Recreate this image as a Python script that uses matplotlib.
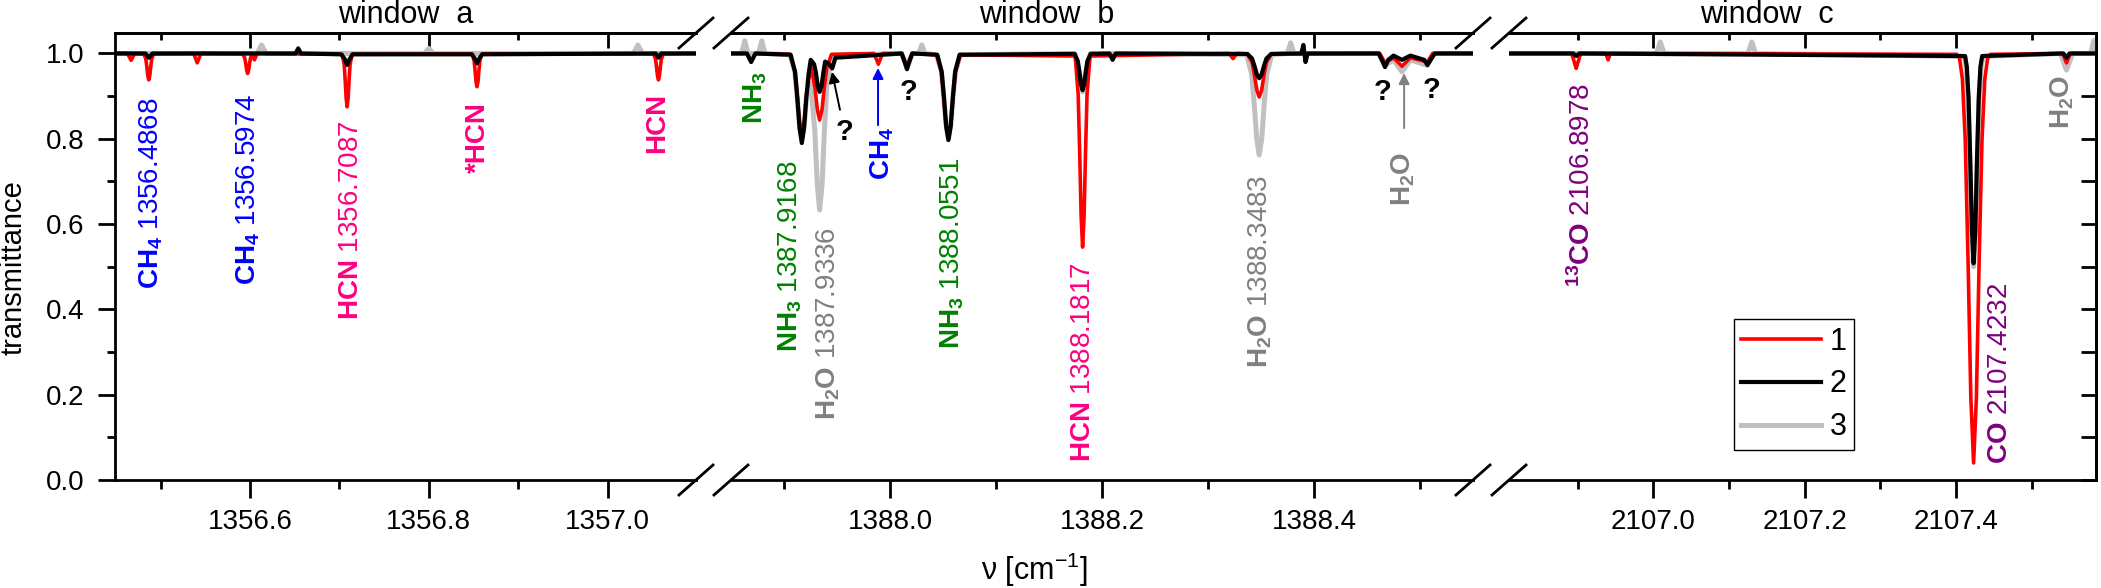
import matplotlib
matplotlib.use("Agg")
import matplotlib.pyplot as plt
from matplotlib.ticker import MultipleLocator, FormatStrFormatter

plt.rcParams['font.family'] = ['Liberation Sans', 'DejaVu Sans']
plt.rcParams['mathtext.fontset'] = 'custom'
plt.rcParams['mathtext.rm'] = 'Liberation Sans'
plt.rcParams['mathtext.it'] = 'Liberation Sans:italic'
plt.rcParams['mathtext.bf'] = 'Liberation Sans:bold'

# ---- data (wavenumber, transmittance) ----
series_names = ['1', '2', '3']

# window a
win_a_nu_1 = [1356.449,
              1356.463, 1356.467, 1356.471,
              1356.4813, 1356.4835, 1356.4846, 1356.4857, 1356.4868, 1356.4879, 1356.4890, 1356.4901, 1356.4923,
              1356.537, 1356.541, 1356.545,
              1356.5919, 1356.5941, 1356.5952, 1356.5963, 1356.5974, 1356.5985, 1356.5996, 1356.6007, 1356.6025,
              1356.605, 1356.608,
              1356.7032, 1356.7054, 1356.7065, 1356.7076, 1356.7087, 1356.7098, 1356.7109, 1356.7120, 1356.7142,
              1356.8485, 1356.8507, 1356.8518, 1356.8529, 1356.854, 1356.8551, 1356.8562, 1356.8573, 1356.8595,
              1357.0515, 1357.0537, 1357.0548, 1357.0559, 1357.057, 1357.0581, 1357.0592, 1357.0603, 1357.0625,
              1357.099]
win_a_tr_1 = [1.0,
              1.0, 0.984, 1.0,
              0.999, 0.987, 0.969, 0.948, 0.938, 0.948, 0.969, 0.987, 0.999,
              1.0, 0.978, 1.0,
              0.999, 0.990, 0.977, 0.961, 0.953, 0.961, 0.977, 0.990, 0.998,
              0.985, 1.0,
              0.998, 0.974, 0.938, 0.895, 0.875, 0.895, 0.938, 0.974, 0.998,
              0.999, 0.984, 0.961, 0.934, 0.922, 0.934, 0.961, 0.984, 0.999,
              0.999, 0.987, 0.969, 0.948, 0.938, 0.948, 0.969, 0.987, 0.999,
              1.0]
win_a_nu_2 = [1356.449, 1356.483, 1356.4868, 1356.491, 1356.651, 1356.654, 1356.657,
              1356.702, 1356.706, 1356.7087, 1356.7115, 1356.715,
              1356.848, 1356.851, 1356.854, 1356.857, 1356.860,
              1357.054, 1357.057, 1357.060, 1357.099]
win_a_tr_2 = [1.0, 1.0, 0.99, 1.0, 1.0, 1.012, 1.0,
              0.998, 0.987, 0.973, 0.987, 0.998,
              0.998, 0.99, 0.977, 0.99, 0.998,
              1.0, 0.99, 1.0, 1.0]
win_a_nu_3 = [1356.449, 1356.608, 1356.613, 1356.618, 1356.795, 1356.800, 1356.805,
              1357.029, 1357.034, 1357.039, 1357.099]
win_a_tr_3 = [1.0, 1.0, 1.02, 1.0, 1.0, 1.012, 1.0, 1.0, 1.02, 1.0, 1.0]

# window b
win_b_nu_1 = [1387.850,
              1387.865, 1387.869, 1387.873,
              1387.9056, 1387.9101, 1387.9123, 1387.9146, 1387.9168, 1387.9191, 1387.9213, 1387.9252,
              1387.9291, 1387.9314, 1387.9336, 1387.9359, 1387.9381, 1387.9404, 1387.9449,
              1387.985, 1387.989, 1387.993,
              1388.011, 1388.016, 1388.021,
              1388.0439, 1388.0484, 1388.0506, 1388.0529, 1388.0551, 1388.0574, 1388.0596, 1388.0619, 1388.0664,
              1388.1747, 1388.1775, 1388.1789, 1388.1803, 1388.1817, 1388.1831, 1388.1845, 1388.1859, 1388.1887,
              1388.320, 1388.3236, 1388.327,
              1388.3371, 1388.3416, 1388.3438, 1388.3461, 1388.3483, 1388.3506, 1388.3528, 1388.3551, 1388.3596,
              1388.462, 1388.467, 1388.475, 1388.483, 1388.491, 1388.507, 1388.512,
              1388.550]
win_b_tr_1 = [1.0,
              1.0, 0.98, 1.0,
              0.998, 0.960, 0.905, 0.840, 0.810, 0.840, 0.905, 0.970,
              0.922, 0.869, 0.844, 0.869, 0.922, 0.967, 0.998,
              1.0, 0.975, 1.0,
              1.0, 0.97, 1.0,
              0.997, 0.958, 0.900, 0.832, 0.800, 0.832, 0.900, 0.958, 0.997,
              0.994, 0.905, 0.773, 0.619, 0.546, 0.619, 0.773, 0.905, 0.994,
              1.0, 0.988, 1.0,
              0.999, 0.979, 0.949, 0.914, 0.898, 0.914, 0.949, 0.979, 0.999,
              1.0, 0.978, 0.99, 0.97, 0.99, 0.98, 1.0,
              1.0]
win_b_nu_2 = [1387.850, 1387.865, 1387.869, 1387.873,
              1387.9063, 1387.9105, 1387.9126, 1387.9147, 1387.9168, 1387.9189, 1387.9210, 1387.9231, 1387.9252,
              1387.9284, 1387.9301, 1387.9318, 1387.9336, 1387.9354, 1387.9371, 1387.9388, 1387.9425, 1387.9455,
              1387.9485,
              1388.011, 1388.0135, 1388.016, 1388.0185, 1388.021,
              1388.0446, 1388.0488, 1388.0509, 1388.0530, 1388.0551, 1388.0572, 1388.0593, 1388.0614, 1388.0656,
              1388.1742, 1388.1772, 1388.1787, 1388.1802, 1388.1817, 1388.1832, 1388.1847, 1388.1862, 1388.1892,
              1388.207, 1388.210, 1388.213,
              1388.3371, 1388.3416, 1388.3438, 1388.3461, 1388.3483, 1388.3506, 1388.3528, 1388.3551, 1388.3596,
              1388.388, 1388.390, 1388.392, 1388.394,
              1388.461, 1388.464, 1388.467, 1388.470, 1388.475, 1388.483, 1388.491, 1388.504, 1388.507, 1388.510,
              1388.514,
              1388.550]
win_b_tr_2 = [1.0, 1.0, 0.98, 1.0,
              0.997, 0.956, 0.895, 0.824, 0.790, 0.824, 0.895, 0.950, 0.985,
              0.975, 0.955, 0.924, 0.910, 0.924, 0.955, 0.981, 0.975, 0.965,
              0.99,
              1.0, 0.982, 0.963, 0.982, 1.0,
              0.997, 0.957, 0.898, 0.829, 0.797, 0.829, 0.898, 0.957, 0.997,
              0.999, 0.982, 0.957, 0.928, 0.914, 0.928, 0.957, 0.982, 0.999,
              1.0, 0.985, 1.0,
              0.999, 0.988, 0.971, 0.951, 0.942, 0.951, 0.971, 0.988, 0.999,
              1.0, 1.02, 0.98, 1.0,
              1.0, 0.985, 0.968, 0.985, 0.995, 0.985, 0.995, 0.985, 0.973, 0.985,
              1.0,
              1.0]
win_b_nu_3 = [1387.850, 1387.860, 1387.863, 1387.866, 1387.876, 1387.879, 1387.882,
              1387.9056, 1387.9101, 1387.9123, 1387.9146, 1387.9168, 1387.9191, 1387.9213, 1387.9252,
              1387.9291, 1387.9314, 1387.9336, 1387.9359, 1387.9381, 1387.9404, 1387.9449,
              1388.011, 1388.016, 1388.021, 1388.027, 1388.030, 1388.033,
              1388.0439, 1388.0484, 1388.0506, 1388.0529, 1388.0551, 1388.0574, 1388.0596, 1388.0619, 1388.0664,
              1388.1742, 1388.1787, 1388.1817, 1388.1847, 1388.1892,
              1388.3366, 1388.3413, 1388.3436, 1388.3460, 1388.3483, 1388.3507, 1388.3530, 1388.3554, 1388.3601,
              1388.375, 1388.378, 1388.381,
              1388.461, 1388.467, 1388.475, 1388.483, 1388.491, 1388.507, 1388.513,
              1388.550]
win_b_tr_3 = [1.0, 1.0, 1.03, 1.0, 1.0, 1.03, 1.0,
              0.997, 0.958, 0.900, 0.832, 0.800, 0.832, 0.900, 0.930,
              0.817, 0.692, 0.633, 0.692, 0.817, 0.923, 0.995,
              1.0, 0.97, 1.0, 1.0, 1.02, 1.0,
              0.997, 0.958, 0.900, 0.832, 0.800, 0.832, 0.900, 0.958, 0.997,
              1.0, 0.955, 0.91, 0.955, 1.0,
              0.997, 0.950, 0.881, 0.800, 0.762, 0.800, 0.881, 0.950, 0.997,
              1.0, 1.025, 1.0,
              1.0, 0.972, 0.985, 0.957, 0.985, 0.972, 1.0,
              1.0]

# window c
win_c_nu_1 = [2106.809, 2106.8918, 2106.8948, 2106.8978, 2106.9008, 2106.9038,
              2106.937, 2106.940, 2106.943,
              2107.4010, 2107.4047, 2107.4084, 2107.4121, 2107.4158, 2107.4195, 2107.4232, 2107.4269, 2107.4306,
              2107.4343, 2107.4380, 2107.4417, 2107.4454,
              2107.541, 2107.546, 2107.551, 2107.585]
win_c_tr_1 = [1.0, 1.0, 0.983, 0.965, 0.983, 1.0,
              1.0, 0.985, 1.0,
              0.998, 0.988, 0.940, 0.798, 0.520, 0.194, 0.040, 0.194, 0.520,
              0.798, 0.940, 0.988, 0.998,
              1.0, 0.978, 1.0, 1.0]
win_c_nu_2 = [2106.809, 2106.894, 2106.8978, 2106.902,
              2107.4120, 2107.4142, 2107.4165, 2107.4187, 2107.4210, 2107.4232, 2107.4255, 2107.4277, 2107.4300,
              2107.4322, 2107.4345,
              2107.542, 2107.546, 2107.550, 2107.585]
win_c_tr_2 = [1.0, 1.0, 0.994, 1.0,
              0.994, 0.969, 0.897, 0.754, 0.587, 0.508, 0.587, 0.754, 0.897,
              0.969, 0.994,
              1.0, 0.99, 1.0, 1.0]
win_c_nu_3 = [2106.809, 2107.004, 2107.009, 2107.014, 2107.125, 2107.130, 2107.135,
              2107.4107, 2107.4132, 2107.4157, 2107.4182, 2107.4207, 2107.4232, 2107.4257, 2107.4282, 2107.4307,
              2107.4332, 2107.4357,
              2107.538, 2107.542, 2107.546, 2107.550, 2107.554, 2107.578, 2107.582, 2107.585]
win_c_tr_3 = [1.0, 1.0, 1.027, 1.0, 1.0, 1.027, 1.0,
              0.993, 0.969, 0.895, 0.750, 0.580, 0.500, 0.580, 0.750, 0.895,
              0.969, 0.993,
              1.0, 0.98, 0.961, 0.98, 1.0, 1.0, 1.03, 1.0]

win_a_range = (1356.449, 1357.099)
win_b_range = (1387.850, 1388.550)
win_c_range = (2106.809, 2107.585)

# ---- layout (pixels of the 2101x588 output) ----
W, H = 2101, 588
TOP, BOT = 33, 480
fig = plt.figure(figsize=(W / 100, H / 100), dpi=100)


def px_rect(x0, x1):
    return [x0 / W, 1 - BOT / H, (x1 - x0) / W, (BOT - TOP) / H]


ax_a = fig.add_axes(px_rect(115, 696))
ax_b = fig.add_axes(px_rect(731, 1473))
ax_c = fig.add_axes(px_rect(1509, 2096))

RED, BLACK, GRAY = '#ff0000', '#000000', '#c0c0c0'
PINK, BLUE, GREEN, DGRAY, PURPLE = '#ff0080', '#0000ff', '#008000', '#808080', '#800080'

panels = [
    (ax_a, win_a_range, (win_a_nu_1, win_a_tr_1), (win_a_nu_2, win_a_tr_2), (win_a_nu_3, win_a_tr_3)),
    (ax_b, win_b_range, (win_b_nu_1, win_b_tr_1), (win_b_nu_2, win_b_tr_2), (win_b_nu_3, win_b_tr_3)),
    (ax_c, win_c_range, (win_c_nu_1, win_c_tr_1), (win_c_nu_2, win_c_tr_2), (win_c_nu_3, win_c_tr_3)),
]

handles = []
for ax, rng, s1, s2, s3 in panels:
    l3, = ax.plot(*s3, color=GRAY, lw=3.6, solid_joinstyle='round', zorder=1)
    l1, = ax.plot(*s1, color=RED, lw=2.6, solid_joinstyle='round', zorder=2)
    l2, = ax.plot(*s2, color=BLACK, lw=3.0, solid_joinstyle='round', zorder=3)
    handles = [l1, l2, l3]
    ax.set_xlim(*rng)
    ax.set_ylim(0, 1.048)


def style(ax, left=False, right=False):
    for s in ax.spines.values():
        s.set_linewidth(2)
    ax.spines['left'].set_visible(left)
    ax.spines['right'].set_visible(right)
    ax.xaxis.set_major_locator(MultipleLocator(0.2))
    ax.xaxis.set_minor_locator(MultipleLocator(0.1))
    ax.xaxis.set_major_formatter(FormatStrFormatter('%.1f'))
    ax.tick_params(axis='x', which='major', direction='out', length=13, width=2, labelsize=20, pad=8)
    ax.tick_params(axis='x', which='minor', direction='out', length=6.5, width=2)
    top = ax.secondary_xaxis('top')
    top.xaxis.set_major_locator(MultipleLocator(0.2))
    top.xaxis.set_minor_locator(MultipleLocator(0.1))
    top.tick_params(which='major', direction='in', length=11, width=2, labeltop=False)
    top.tick_params(which='minor', direction='in', length=5, width=2)
    top.spines['top'].set_linewidth(2)
    if left:
        ax.yaxis.set_major_locator(MultipleLocator(0.2))
        ax.yaxis.set_minor_locator(MultipleLocator(0.1))
        ax.yaxis.set_major_formatter(FormatStrFormatter('%.1f'))
        ax.tick_params(axis='y', which='major', direction='out', length=12, width=2, labelsize=20, pad=10)
        ax.tick_params(axis='y', which='minor', direction='out', length=6, width=2)
    else:
        ax.tick_params(axis='y', which='both', left=False, labelleft=False)
    if right:
        sec = ax.secondary_yaxis('right')
        sec.yaxis.set_major_locator(MultipleLocator(0.1))
        sec.tick_params(direction='in', length=10.5, width=2, labelright=False)
        sec.spines['right'].set_linewidth(2)


style(ax_a, left=True)
style(ax_b)
style(ax_c, right=True)


def slash(ax, xa, ya, width_px):
    dx, dy = 17 / width_px, 15 / (BOT - TOP)
    ax.plot([xa - dx, xa + dx], [ya - dy, ya + dy], transform=ax.transAxes,
            color='k', lw=2, clip_on=False, zorder=5)


for ya in (0, 1):
    slash(ax_a, 1, ya, 581)
    slash(ax_b, 0, ya, 742)
    slash(ax_b, 1, ya, 742)
    slash(ax_c, 0, ya, 587)

# line labels
labels = [
    (ax_a, 1356.4898, 0.898, r'$\mathbf{CH_4}$ 1356.4868', BLUE, 'normal'),
    (ax_a, 1356.5978, 0.905, r'$\mathbf{CH_4}$ 1356.5974', BLUE, 'normal'),
    (ax_a, 1356.7130, 0.844, r'$\mathbf{HCN}$ 1356.7087', PINK, 'normal'),
    (ax_a, 1356.8546, 0.886, '*HCN', PINK, 'bold'),
    (ax_a, 1357.0550, 0.907, 'HCN', PINK, 'bold'),
    (ax_b, 1387.8726, 0.957, r'$\mathbf{NH_3}$', GREEN, 'normal'),
    (ax_b, 1387.9057, 0.750, r'$\mathbf{NH_3}$ 1387.9168', GREEN, 'normal'),
    (ax_b, 1387.9415, 0.593, r'$\mathbf{H_2O}$ 1387.9336', DGRAY, 'normal'),
    (ax_b, 1387.9925, 0.828, r'$\mathbf{CH_4}$', BLUE, 'normal'),
    (ax_b, 1388.0585, 0.757, r'$\mathbf{NH_3}$ 1388.0551', GREEN, 'normal'),
    (ax_b, 1388.1820, 0.511, r'$\mathbf{HCN}$ 1388.1817', PINK, 'normal'),
    (ax_b, 1388.3490, 0.715, r'$\mathbf{H_2O}$ 1388.3483', DGRAY, 'normal'),
    (ax_b, 1388.4840, 0.769, r'$\mathbf{H_2O}$', DGRAY, 'normal'),
    (ax_c, 2106.9050, 0.931, r'$\mathbf{^{13}CO}$ 2106.8978', PURPLE, 'normal'),
    (ax_c, 2107.4585, 0.462, r'$\mathbf{CO}$ 2107.4232', PURPLE, 'normal'),
    (ax_c, 2107.5400, 0.950, r'$\mathbf{H_2O}$', DGRAY, 'normal'),
]
for ax, x, y, txt, col, fw in labels:
    ax.text(x, y, txt, rotation=90, ha='center', va='top', fontsize=20,
            color=col, fontweight=fw, zorder=6)

for x, y in [(1387.9575, 0.816), (1388.017, 0.910), (1388.465, 0.910), (1388.511, 0.914)]:
    ax_b.text(x, y, '?', ha='center', va='center', fontsize=21, fontweight='bold', color='k', zorder=6)

arrows = [
    ((1387.9453, 0.957), (1387.9528, 0.868), 'k'),
    ((1387.9887, 0.966), (1387.9887, 0.832), BLUE),
    ((1388.4850, 0.954), (1388.4850, 0.825), DGRAY),
]
for tip, tail, col in arrows:
    ax_b.annotate('', xy=tip, xytext=tail,
                  arrowprops=dict(arrowstyle='-|>', color=col, lw=1.4, mutation_scale=16,
                                  shrinkA=0, shrinkB=0), zorder=6)

leg = ax_c.legend(handles, series_names, loc='upper left',
                  bbox_to_anchor=((1733.5 - 1509) / 587, (BOT - 319) / (BOT - TOP)),
                  fontsize=22, frameon=True, fancybox=False, edgecolor='black', framealpha=1,
                  borderaxespad=0, handlelength=2.6, handletextpad=0.3, labelspacing=0.42,
                  borderpad=0.25)
leg.get_frame().set_linewidth(1.0)

# titles and axis labels
fig.text(406 / W, 1 - 15 / H, 'window  a', ha='center', va='center', fontsize=22)
fig.text(1047 / W, 1 - 15 / H, 'window  b', ha='center', va='center', fontsize=22)
fig.text(1767 / W, 1 - 15 / H, 'window  c', ha='center', va='center', fontsize=22)
fig.text(14 / W, 1 - 268 / H, 'transmittance', rotation=90, ha='center', va='center', fontsize=21)
fig.text(1034 / W, 1 - 570 / H, r'ν [cm$^{-1}$]', ha='center', va='center', fontsize=22)

fig.savefig('out.png', dpi=100)
